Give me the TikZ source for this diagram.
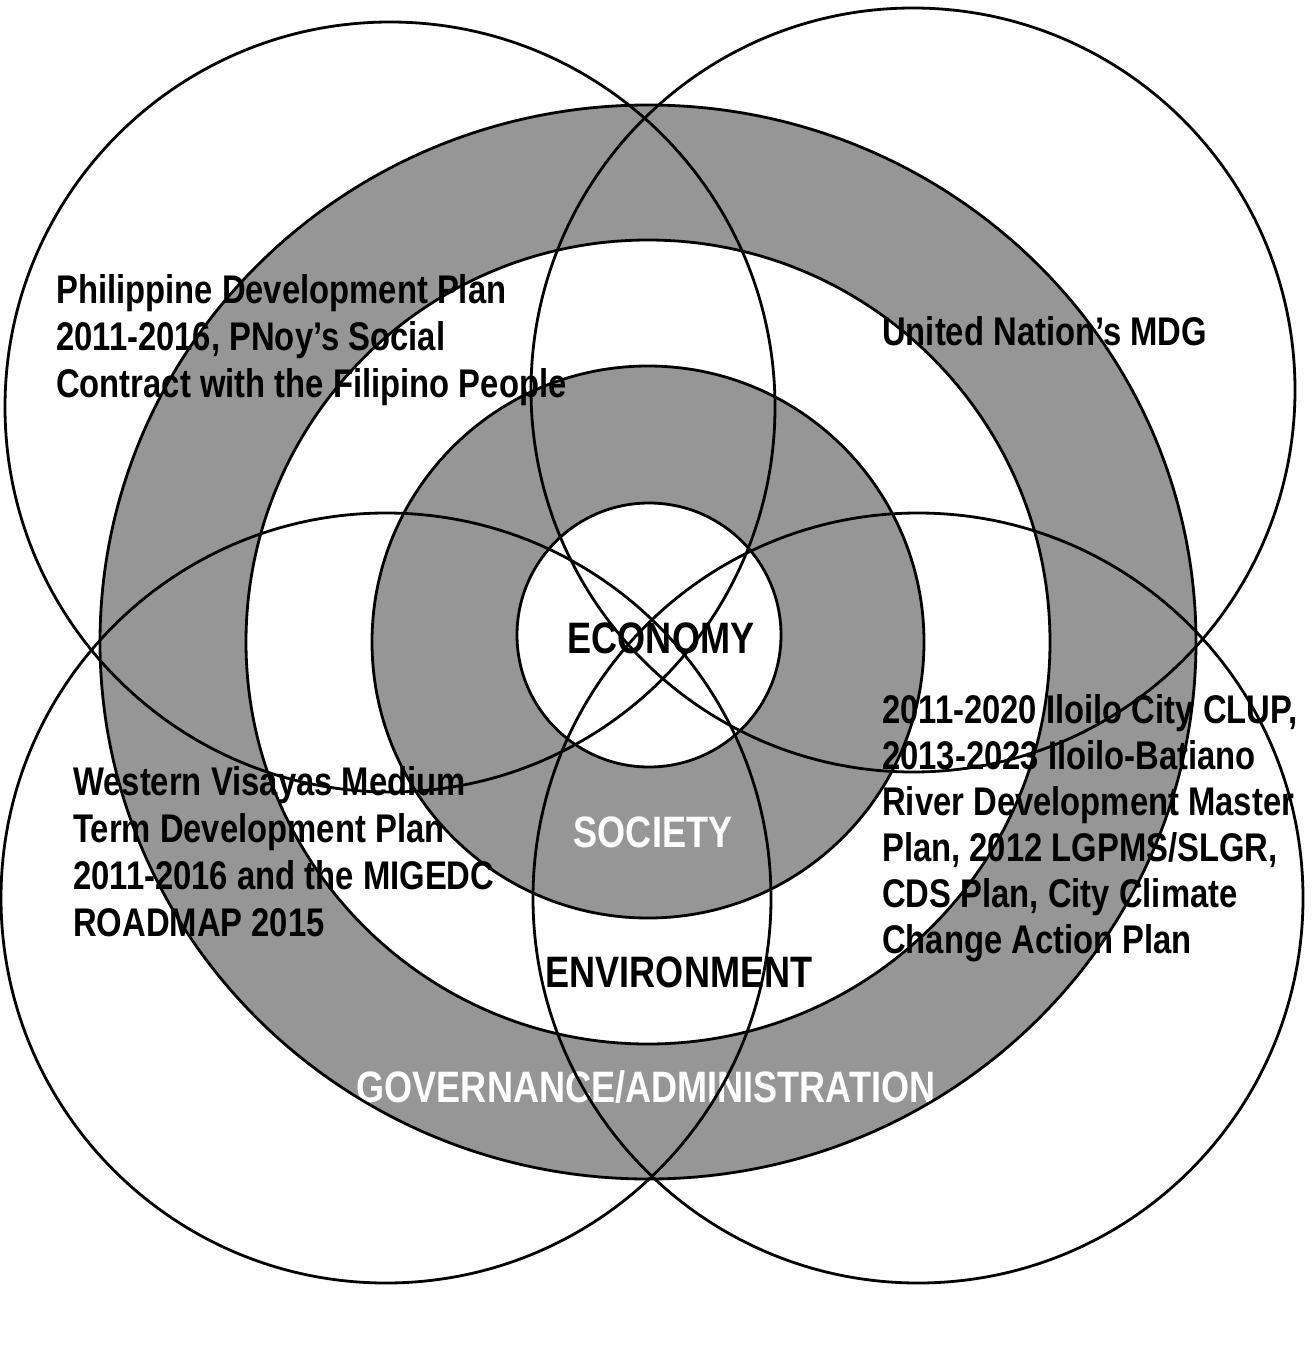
\documentclass[tikz,border=0pt]{standalone}
\usepackage{fontspec}
\setmainfont{Liberation Sans}[FakeStretch=0.82]
\definecolor{ringgray}{RGB}{150,150,150}

\begin{document}
\begin{tikzpicture}[
    x=1pt, y=-1pt,
    ring/.style    = {draw=black,
                      line width=2.8pt},
    planbox/.style = {font=\fontsize{40}{47}\selectfont\bfseries,
                      align=left,
                      anchor=base west,
                      inner sep=0pt},
    pillar/.style  = {font=\fontsize{44}{52}\selectfont\bfseries,
                      anchor=base,
                      inner sep=0pt}
]
\useasboundingbox (0,0) rectangle (1313,1362);
\coordinate (c) at (648,642);
\coordinate (core) at (649,635);

% shaded rings
\fill[ringgray] (c) ellipse [x radius=548, y radius=537];
\fill[white]    (c) circle [radius=402];
\fill[ringgray] (c) circle [radius=276];
\fill[white]    (core) circle [radius=132];

% plans (anchored at the last baseline)
\node (pdp) [planbox] at (56,397) {
Philippine Development Plan \\
2011-2016, PNoy’s Social \\
Contract with the Filipino People
};
\node (mdg) [planbox] at (882,345) {United Nation’s MDG};
\node (wv) [planbox] at (73,936) {
Western Visayas Medium \\
Term Development Plan \\
2011-2016 and the MIGEDC \\
ROADMAP 2015
};
\node (clup) [planbox, font=\fontsize{40}{46}\selectfont\bfseries] at (882,953) {
2011-2020 Iloilo City CLUP, \\
2013-2023 Iloilo-Batiano \\
River Development Master \\
Plan, 2012 LGPMS/SLGR, \\
CDS Plan, City Climate \\
Change Action Plan
};

% pillars
\node (eco) [pillar] at (661,653) {ECONOMY};
\node (soc) [pillar, text=white] at (653,847) {SOCIETY};
\node (env) [pillar] at (679,987) {ENVIRONMENT};
\node (gov) [pillar, text=white] at (646,1102) {GOVERNANCE/ADMINISTRATION};

% outlines
\draw[ring] (c) ellipse [x radius=548, y radius=537];
\draw[ring] (c) circle [radius=402];
\draw[ring] (c) circle [radius=276];
\draw[ring] (core) circle [radius=132];

\draw[ring] (390,407) circle [radius=385];
\draw[ring] (913,390) circle [radius=382];
\draw[ring] (386,898) circle [radius=385];
\draw[ring] (918,898) circle [radius=385];

\end{tikzpicture}
\end{document}
